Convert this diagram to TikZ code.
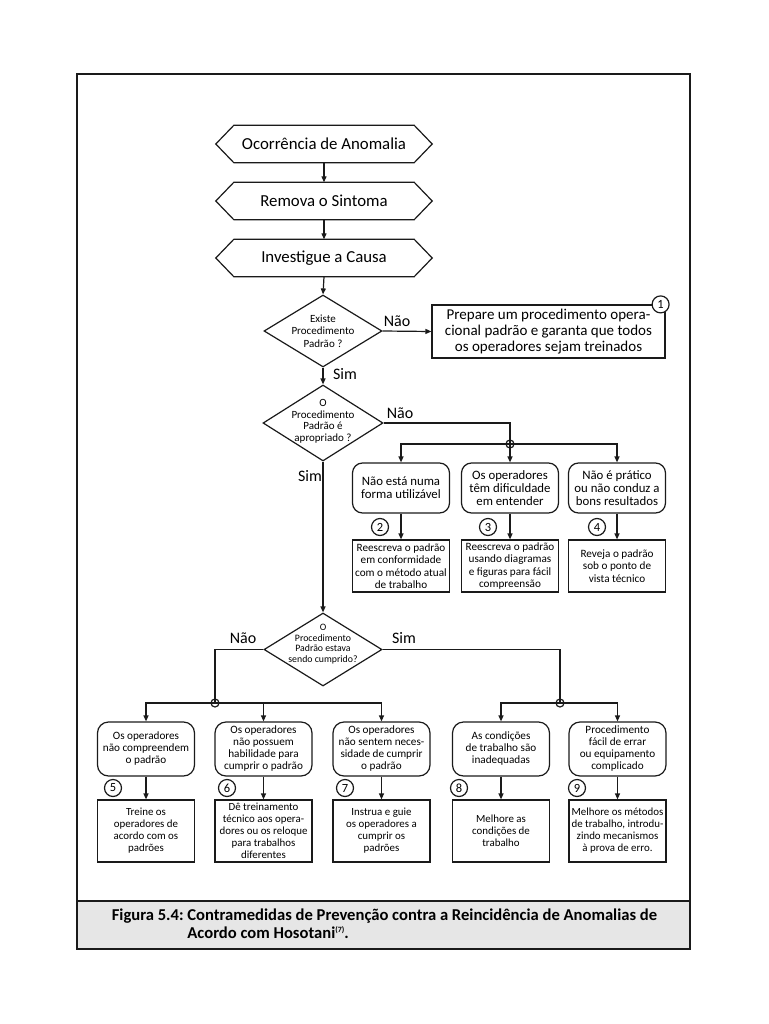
\documentclass[tikz,border=0pt]{standalone}
\usepackage{fontspec}
\setmainfont{Carlito}
\usetikzlibrary{shapes.geometric,arrows.meta}
\definecolor{band}{HTML}{E6E6E6}
\definecolor{ink}{HTML}{1A1A1A}
\begin{document}
\begin{tikzpicture}[x=1pt,y=-1pt,
  line/.style={draw=ink,line width=1.2pt},
  arr/.style={line,-{Triangle[length=6pt,width=5pt]}},
  hexa/.style={minimum width=180pt,minimum height=37pt,inner sep=0pt,font=\fontsize{16.8}{19}\selectfont},
  dia/.style={diamond,line,inner sep=0pt},
  dtext/.style={align=center,inner sep=0pt,font=\fontsize{11}{12.5}\selectfont},
  lab/.style={inner sep=0pt,font=\fontsize{16}{18}\selectfont},
  rboxA/.style={line,rounded corners=10pt,align=center,inner sep=0pt,minimum width=97pt,minimum height=50pt,font=\fontsize{12.8}{13.2}\selectfont},
  sboxA/.style={line,align=center,inner sep=0pt,minimum width=97pt,minimum height=52pt,font=\fontsize{11.2}{12.3}\selectfont},
  rboxB/.style={line,rounded corners=11pt,align=center,inner sep=0pt,minimum width=97pt,minimum height=54pt,font=\fontsize{11.2}{12}\selectfont},
  sboxB/.style={line,align=center,inner sep=0pt,minimum width=97pt,minimum height=62pt,font=\fontsize{10.9}{12}\selectfont},
  num/.style={circle,line,fill=white,minimum size=17pt,inner sep=0pt,font=\fontsize{12.5}{12.5}\selectfont},
  junc/.style={circle,line,minimum size=8pt,inner sep=0pt}
]
\useasboundingbox (0,0) rectangle (768,1024);
% frame and caption band
\fill[band] (77,901) rectangle (690,949);
\draw[draw=ink,line width=2pt] (77,74) rectangle (690,949);
\draw[draw=ink,line width=2pt] (77,901) -- (690,901);
\node[font=\fontsize{16.6}{17.6}\selectfont\bfseries,inner sep=0pt] (cap) at (384.5,926)
  {\begin{tabular}{@{}l@{\ }l@{}}Figura 5.4: & Contramedidas de Prevenção contra a Reincidência de Anomalias de\\ & Acordo com Hosotani\raisebox{6pt}{\fontsize{8}{8}\selectfont(7)}.\end{tabular}};

% hexagons
\node[hexa] (h1) at (324,144) {Ocorrência de Anomalia};
\node[hexa] (h2) at (324,201) {Remova o Sintoma};
\node[hexa] (h3) at (324,258) {Investigue a Causa};
\foreach \n in {h1,h2,h3}
  \draw[line] (\n.north west) -- (\n.north east) -- ([xshift=18pt]\n.east) -- (\n.south east) -- (\n.south west) -- ([xshift=-18pt]\n.west) -- cycle;
\draw[arr] (h1.south) -- (h2.north);
\draw[arr] (h2.south) -- (h3.north);

% diamond 1
\node[dia,minimum width=118pt,minimum height=72pt] (d1) at (323,331) {};
\node[dtext] (d1t) at (323,331) {Existe\\Procedimento\\Padrão ?};
\draw[arr] (h3.south) -- (d1.north);
\node[line,align=center,inner sep=0pt,minimum width=233pt,minimum height=53pt,font=\fontsize{15}{16}\selectfont] (b1) at (548.5,331.5)
  {Prepare um procedimento opera-\\cional padrão e garanta que todos\\os operadores sejam treinados};
\node[num] (n1) at (b1.north east) [xshift=-5pt] {1};
\draw[arr] (d1.east) -- (b1.west);
\node[lab] (l1) at (397,321) {Não};
\node[lab] (l2) at (345,374) {Sim};

% diamond 2
\node[dia,minimum width=120pt,minimum height=76pt] (d2) at (323,423) {};
\node[dtext,font=\fontsize{11}{11.5}\selectfont] (d2t) at (323,421.5) {O\\Procedimento\\Padrão é\\apropriado ?};
\draw[arr] (d1.south) -- (d2.north);
\node[lab] (l3) at (400,413) {Não};
\node[lab] (l4) at (310,476) {Sim};

\node[junc] (j1) at (510,444) {};
\node[rboxA] (ra) at (401,488) {Não está numa\\forma utilizável};
\node[rboxA] (rb) at (510,488) {Os operadores\\têm dificuldade\\em entender};
\node[rboxA] (rc) at (617,488) {Não é prático\\ou não conduz a\\bons resultados};
\draw[line] (d2.east) -| (j1.center);
\draw[arr] (j1.center) -| (ra.north);
\draw[arr] (j1.center) -- (rb.north);
\draw[arr] (j1.center) -| (rc.north);

\node[sboxA] (sa) at (401,566) {Reescreva o padrão\\em conformidade\\com o método atual\\de trabalho};
\node[sboxA] (sb) at (510,566) {Reescreva o padrão\\usando diagramas\\e figuras para fácil\\compreensão};
\node[sboxA] (sc) at (617,566) {Reveja o padrão\\sob o ponto de\\vista técnico};
\draw[arr] (ra.south) -- (sa.north);
\draw[arr] (rb.south) -- (sb.north);
\draw[arr] (rc.south) -- (sc.north);
\node[num] (n2) at (380,527) {2};
\node[num] (n3) at (488,527) {3};
\node[num] (n4) at (597,527) {4};

% diamond 3
\node[dia,minimum width=118pt,minimum height=73pt] (d3) at (323,649.5) {};
\node[dtext,font=\fontsize{9.8}{10.5}\selectfont] (d3t) at (323,644) {O\\Procedimento\\Padrão estava\\sendo cumprido?};
\draw[arr] (d2.south) -- (d3.north);
\node[lab] (l5) at (243,638) {Não};
\node[lab] (l6) at (404,638) {Sim};

\node[junc] (j2) at (215,703) {};
\node[junc] (j3) at (560,703) {};
\draw[line] (d3.west) -| (j2.center);
\draw[line] (d3.east) -| (j3.center);

\node[rboxB] (r5) at (146,749) {Os operadores\\não compreendem\\o padrão};
\node[rboxB] (r6) at (263.5,749) {Os operadores\\não possuem\\habilidade para\\cumprir o padrão};
\node[rboxB] (r7) at (381.5,749) {Os operadores\\não sentem neces-\\sidade de cumprir\\o padrão};
\node[rboxB] (r8) at (501,749) {As condições\\de trabalho são\\inadequadas};
\node[rboxB] (r9) at (617.5,749) {Procedimento\\fácil de errar\\ou equipamento\\complicado};
\draw[arr] (j2.center) -| (r5.north);
\draw[arr] (j2.center) -| (r6.north);
\draw[arr] (j2.center) -| (r7.north);
\draw[arr] (j3.center) -| (r8.north);
\draw[arr] (j3.center) -| (r9.north);

\node[sboxB] (s5) at (146,831) {Treine os\\operadores de\\acordo com os\\padrões};
\node[sboxB] (s6) at (263.5,831) {Dê treinamento\\técnico aos opera-\\dores ou os reloque\\para trabalhos\\diferentes};
\node[sboxB] (s7) at (381.5,831) {Instrua e guie\\os operadores a\\cumprir os\\padrões};
\node[sboxB] (s8) at (501,831) {Melhore as\\condições de\\trabalho};
\node[sboxB] (s9) at (617.5,831) {Melhore os métodos\\de trabalho, introdu-\\zindo mecanismos\\à prova de erro.};
\foreach \k in {5,6,7,8,9} \draw[arr] (r\k.south) -- (s\k.north);
\node[num] (n5) at (113,788) {5};
\node[num] (n6) at (227,788) {6};
\node[num] (n7) at (345,788) {7};
\node[num] (n8) at (459,788) {8};
\node[num] (n9) at (577,788) {9};
\end{tikzpicture}
\end{document}
